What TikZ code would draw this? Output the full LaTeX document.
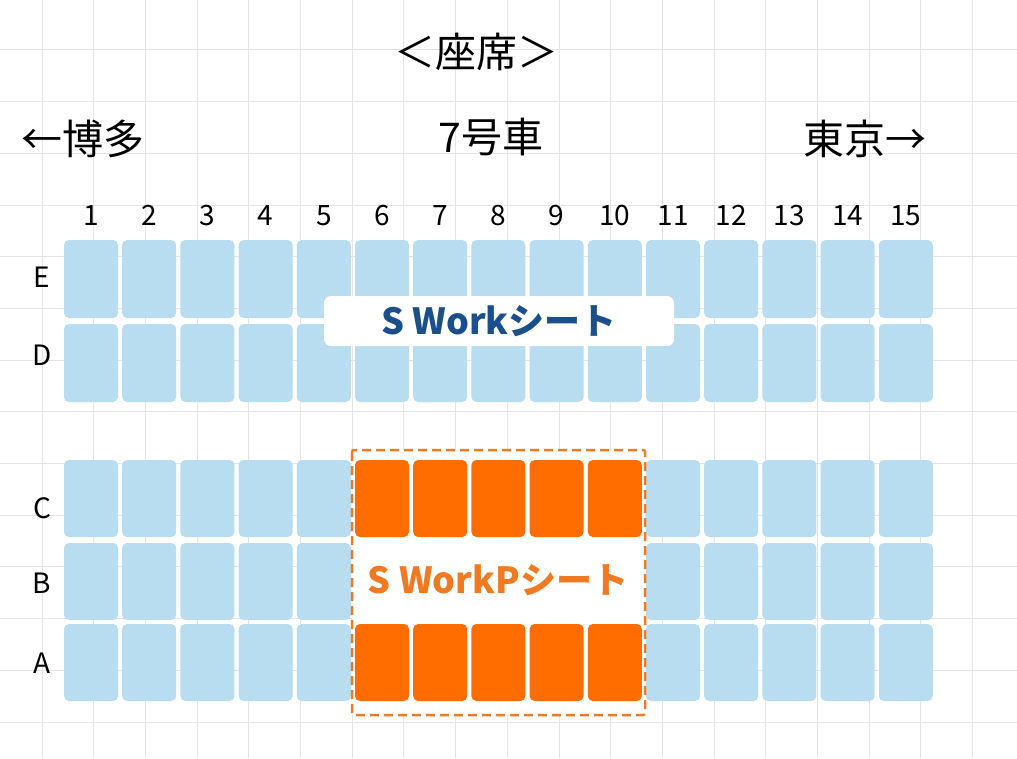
\documentclass[tikz,border=0pt]{standalone}
\usepackage{fontspec}
\setmainfont{Noto Sans CJK JP}
\begin{document}
\begin{tikzpicture}[x=1pt,y=-1pt,
  seat/.style={fill=seatblue,rounded corners=5pt},
  pseat/.style={fill=seatorange,rounded corners=5pt},
  lbl/.style={font=\fontsize{28}{28}\selectfont,text=black},
  big/.style={font=\fontsize{41}{41}\selectfont,text=black}]
\definecolor{seatblue}{HTML}{B8DCF0}
\definecolor{seatorange}{HTML}{FF6D00}
\definecolor{gridc}{HTML}{E4E4E4}
\definecolor{navy}{HTML}{1B4F8C}
\definecolor{otext}{HTML}{F07A22}
\useasboundingbox (0,0) rectangle (1017,758);
\fill[white] (0,0) rectangle (1017,758);
\foreach \i in {0,...,19} \draw[gridc,line width=1pt] ({42+51.7*(\i-1)},0) -- ({42+51.7*(\i-1)},758);
\foreach \i in {0,...,15} \draw[gridc,line width=1pt] (0,{205+51.7*(\i-4)}) -- (1017,{205+51.7*(\i-4)});
% seats
\foreach \c in {1,...,15}{
  \pgfmathsetmacro{\xl}{64+58.2*(\c-1)}
  \node[lbl,anchor=base] (n\c) at (\xl+27,225) {\c};
  \fill[seat] (\xl,240) rectangle +(54,78);
  \fill[seat] (\xl,324) rectangle +(54,78);
  \fill[seat] (\xl,543) rectangle +(54,77);
  \ifnum\c<6 \fill[seat] (\xl,460) rectangle +(54,77); \fill[seat] (\xl,624) rectangle +(54,77);\fi
  \ifnum\c>10 \fill[seat] (\xl,460) rectangle +(54,77); \fill[seat] (\xl,624) rectangle +(54,77);\fi
}
\fill[white] (352,450) rectangle (645,715);
\foreach \c in {6,...,10}{
  \pgfmathsetmacro{\xl}{64+58.2*(\c-1)}
  \fill[pseat] (\xl,460) rectangle +(54,77);
  \fill[pseat] (\xl,624) rectangle +(54,77);
}
\draw[otext,line width=2.5pt,dash pattern=on 9pt off 5pt,rounded corners=2pt] (352,450) rectangle (645,715);
\node[font=\bfseries\fontsize{36}{36}\selectfont,text=otext] (pw) at (498,580) {S WorkPシート};
\node[fill=white,rounded corners=7pt,minimum width=350pt,minimum height=50pt,font=\bfseries\fontsize{36}{36}\selectfont,text=navy] (sw) at (499,321) {S Workシート};
% row labels
\node[lbl] (E) at (42,277) {E};
\node[lbl] (D) at (42,355) {D};
\node[lbl] (C) at (42,508) {C};
\node[lbl] (B) at (42,583) {B};
\node[lbl] (A) at (42,663) {A};
\node[big] (t) at (476,52) {＜座席＞};
\node[big] (car) at (491,137) {7号車};
\node[big,anchor=west] (hk) at (18,139) {←博多};
\node[big,anchor=east] (tk) at (930,139) {東京→};
\end{tikzpicture}
\end{document}
